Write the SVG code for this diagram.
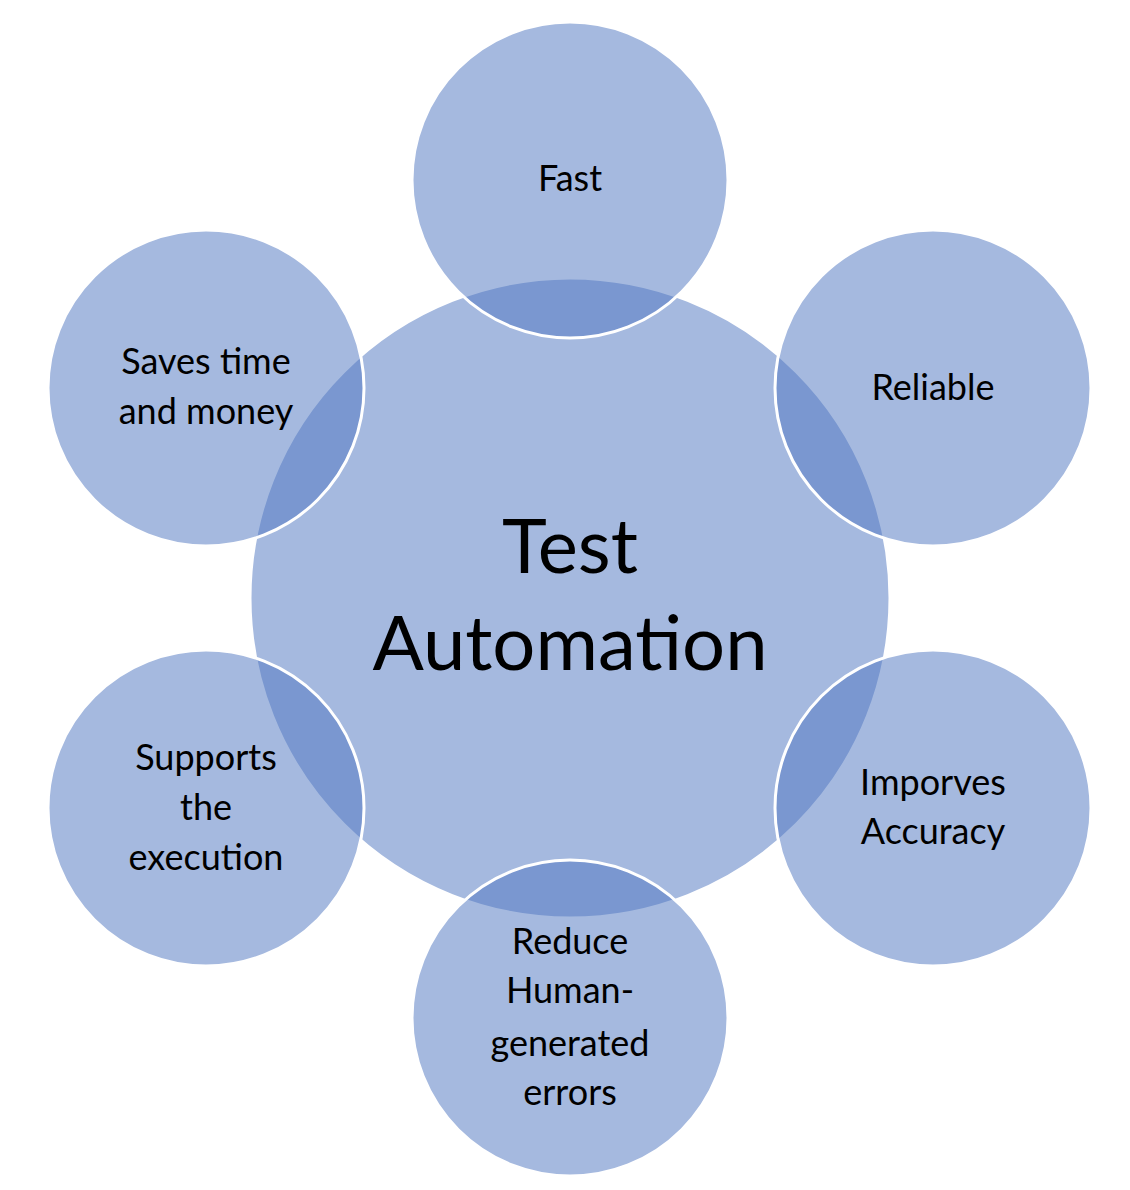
<svg xmlns="http://www.w3.org/2000/svg" width="1130" height="1190" viewBox="0 0 1130 1190">
<style>
.c{fill:#5379C2;fill-opacity:0.52;stroke:#fff;stroke-width:3}
.t{font-family:Lato,"Liberation Sans",sans-serif;font-size:36px;fill:#000;text-anchor:middle}
.m{font-family:Lato,"Liberation Sans",sans-serif;font-size:76px;fill:#000;text-anchor:middle}
</style>
<rect width="1130" height="1190" fill="#fff"/>
<g id="center"><circle class="c" cx="570" cy="598" r="320"/><text class="m" x="570" y="573">Test</text><text class="m" x="570" y="670">Automation</text></g>
<g id="connectors"></g>
<g id="fast"><circle class="c" cx="570" cy="180" r="158"/><text class="t" x="570" y="191">Fast</text></g>
<g id="reliable"><circle class="c" cx="933" cy="388" r="158"/><text class="t" x="933" y="400">Reliable</text></g>
<g id="accuracy"><circle class="c" cx="933" cy="808" r="158"/><text class="t" x="933" y="795">Imporves</text><text class="t" x="933" y="844">Accuracy</text></g>
<g id="reduce"><circle class="c" cx="570" cy="1018" r="158"/><text class="t" x="570" y="954">Reduce</text><text class="t" x="570" y="1003">Human-</text><text class="t" x="570" y="1056">generated</text><text class="t" x="570" y="1105">errors</text></g>
<g id="supports"><circle class="c" cx="206" cy="808" r="158"/><text class="t" x="206" y="770">Supports</text><text class="t" x="206" y="820">the</text><text class="t" x="206" y="870">execution</text></g>
<g id="saves"><circle class="c" cx="206" cy="388" r="158"/><text class="t" x="206" y="374">Saves time</text><text class="t" x="206" y="424">and money</text></g>
</svg>
